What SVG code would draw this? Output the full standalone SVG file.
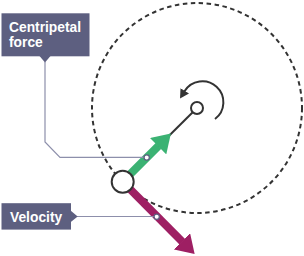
<svg xmlns="http://www.w3.org/2000/svg" width="304" height="256" viewBox="0 0 304 256">
  <style>
    .dark { stroke: #333333; stroke-width: 2; fill: none; }
    .ball { fill: #ffffff; stroke: #333333; stroke-width: 2; }
    .lead { stroke: #8d8fab; stroke-width: 1.2; fill: none; }
    .dot { fill: #ffffff; stroke: #5d5f80; stroke-width: 1.2; }
    .box { fill: #5d5f80; }
    .lbl { font-family: "Liberation Sans", Arial, sans-serif; font-weight: bold; font-size: 13.8px; fill: #ffffff; }
  </style>
  <defs>
    <marker id="headGreen" markerUnits="userSpaceOnUse" viewBox="0 0 18 23" refX="0.5" refY="11.5" markerWidth="18" markerHeight="23" orient="auto">
      <path d="M0,0 L18,11.5 L0,23 Z" fill="#3bb273"/>
    </marker>
    <marker id="headMagenta" markerUnits="userSpaceOnUse" viewBox="0 0 18 23" refX="0.5" refY="11.5" markerWidth="18" markerHeight="23" orient="auto">
      <path d="M0,0 L18,11.5 L0,23 Z" fill="#9e1f63"/>
    </marker>
    <marker id="headDark" markerUnits="userSpaceOnUse" viewBox="0 0 9 10" refX="0.5" refY="5" markerWidth="9" markerHeight="10" orient="auto">
      <path d="M0,0 L9,5 L0,10 Z" fill="#333333"/>
    </marker>
  </defs>

  <g id="orbit">
    <circle cx="197" cy="108" r="105" fill="none" stroke="#333333" stroke-width="2" stroke-dasharray="4.5 3.5"/>
  </g>

  <g id="connectors">
    <line class="dark" x1="122.7" y1="181.7" x2="197" y2="108"/>
    <line x1="122.7" y1="181.7" x2="158.5" y2="145.9" stroke="#3bb273" stroke-width="8" marker-end="url(#headGreen)"/>
    <line x1="122.7" y1="181.7" x2="182.3" y2="241.7" stroke="#9e1f63" stroke-width="8" marker-end="url(#headMagenta)"/>
    <polyline class="lead" points="45,62 45,142 60,157.3 146.7,157.3"/>
    <line class="lead" x1="77" y1="216.5" x2="156.7" y2="216.5"/>
    <circle class="dot" cx="146.7" cy="157.5" r="2.6"/>
    <circle class="dot" cx="156.7" cy="216.7" r="2.6"/>
    <path class="dark" d="M215,119 A21,21 0 1 0 184.5,91.2" marker-end="url(#headDark)"/>
  </g>

  <g id="object">
    <circle class="ball" cx="122.7" cy="181.7" r="11"/>
  </g>

  <g id="pivot">
    <circle class="ball" cx="197" cy="108" r="6"/>
  </g>

  <g id="centripetal-label">
    <rect class="box" x="1.5" y="13.3" width="88" height="43"/>
    <path class="box" d="M39.5,56 L45,62.5 L50.5,56 Z"/>
    <text class="lbl" x="9" y="31.7">Centripetal</text>
    <text class="lbl" x="9" y="46.7">force</text>
  </g>

  <g id="velocity-label">
    <rect class="box" x="1.5" y="203.2" width="69.5" height="26.4"/>
    <path class="box" d="M70.8,210.8 L77.7,216.4 L70.8,222 Z"/>
    <text class="lbl" x="10" y="222.3">Velocity</text>
  </g>
</svg>
